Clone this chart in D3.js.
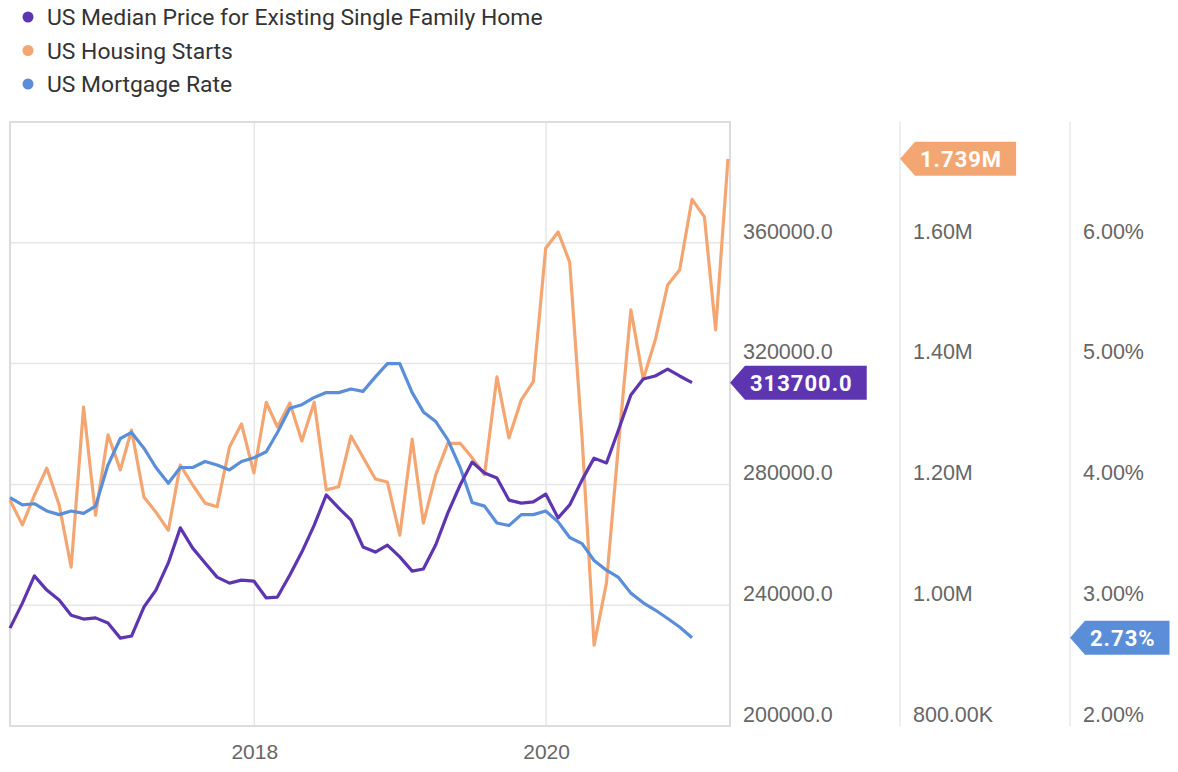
<!DOCTYPE html>
<html>
<head>
<meta charset="utf-8">
<script src="https://cdn.jsdelivr.net/npm/d3@7"></script>
<style>
  body { margin: 0; background: #fff; }
  svg { display: block; font-family: Roboto, "Noto Sans", sans-serif; }
</style>
</head>
<body>
<svg id="chart" width="1178" height="772"></svg>
<script>
// Monthly data, dated at month end (first month: April 2016)
const startMonth = new Date(2016, 3, 1);

// US median price for existing single family home (USD), Apr 2016 - Dec 2020
const medianPrice = [
  232400, 240700, 249700, 245000, 241700, 236700, 235400, 235800, 234100, 229100, 229800, 239400,
  245000, 254000, 265600, 258900, 254000, 249300, 247300, 248300, 248000, 242400, 242700, 250000,
  257600, 266500, 276500, 272200, 268200, 259300, 257600, 259900, 256000, 251300, 252000, 260000,
  270500, 279800, 287400, 283800, 282100, 274800, 273800, 274200, 276800, 268900, 273200, 281500,
  288700, 287100, 298000, 309600, 314900, 315900, 318200, 315900, 313700
];

// US housing starts (thousands, SAAR), Apr 2016 - Mar 2021
const housingStarts = [
  1174, 1133, 1182, 1227, 1166, 1063, 1328, 1149, 1282, 1224, 1290, 1179,
  1154, 1124, 1232, 1199, 1169, 1163, 1262, 1300, 1219, 1336, 1295, 1335,
  1272, 1336, 1191, 1196, 1280, 1245, 1209, 1204, 1116, 1275, 1136, 1216,
  1268, 1268, 1244, 1216, 1378, 1277, 1340, 1370, 1591, 1618, 1568, 1277,
  934, 1037, 1265, 1489, 1374, 1439, 1530, 1555, 1672, 1643, 1456, 1739
];

// US mortgage rate (%), Apr 2016 - Dec 2020
const mortgageRate = [
  3.89, 3.83, 3.84, 3.78, 3.75, 3.78, 3.76, 3.82, 4.16, 4.38, 4.43, 4.30,
  4.14, 4.01, 4.14, 4.14, 4.19, 4.16, 4.12, 4.19, 4.22, 4.27, 4.43, 4.63,
  4.66, 4.72, 4.76, 4.76, 4.79, 4.77, 4.89, 5.00, 5.00, 4.76, 4.60, 4.52,
  4.37, 4.14, 3.85, 3.82, 3.68, 3.66, 3.75, 3.75, 3.78, 3.69, 3.56, 3.51,
  3.37, 3.29, 3.23, 3.10, 3.02, 2.96, 2.89, 2.82, 2.73
];

const seriesNames = [
  "US Median Price for Existing Single Family Home",
  "US Housing Starts",
  "US Mortgage Rate"
];
const seriesColors = ["#5e35b1", "#f4a672", "#5b8ed8"];

const priceTicks = [200000, 240000, 280000, 320000, 360000];
const startsTicks = [800, 1000, 1200, 1400, 1600];
const rateTicks = [2, 3, 4, 5, 6];
const yearTicks = [new Date(2018, 0, 1), new Date(2020, 0, 1)];

// month-end date for the i-th month
function monthEnd(i) {
  return d3.timeDay.offset(d3.timeMonth.offset(startMonth, i + 1), -1);
}

const svg = d3.select("#chart");
const plotLeft = 10, plotRight = 730, plotTop = 122, plotBottom = 726;

const x = d3.scaleTime()
  .domain([new Date(2016, 3, 30), new Date(2021, 3, 5)])
  .range([plotLeft, plotRight]);
const yPrice = d3.scaleLinear().domain([200000, 400000]).range([plotBottom, plotTop]);
const yStarts = d3.scaleLinear().domain([800, 1800]).range([plotBottom, plotTop]);
const yRate = d3.scaleLinear().domain([2, 7]).range([plotBottom, plotTop]);

// grid
const grid = svg.append("g").attr("class", "grid");
grid.selectAll("line.h")
  .data(priceTicks.slice(1))
  .enter().append("line")
  .attr("x1", plotLeft).attr("x2", plotRight)
  .attr("y1", (d) => yPrice(d)).attr("y2", (d) => yPrice(d))
  .style("stroke", "#e6e6e6").style("stroke-width", 1.5);
grid.selectAll("line.v")
  .data(yearTicks)
  .enter().append("line")
  .attr("x1", (d) => x(d)).attr("x2", (d) => x(d))
  .attr("y1", plotTop).attr("y2", plotBottom)
  .style("stroke", "#e6e6e6").style("stroke-width", 1.5);

// frame
svg.append("rect")
  .attr("x", plotLeft).attr("y", plotTop)
  .attr("width", plotRight - plotLeft).attr("height", plotBottom - plotTop)
  .style("fill", "none").style("stroke", "#dcdcdc").style("stroke-width", 2);

// axis separators
svg.selectAll("line.sep")
  .data([900, 1070])
  .enter().append("line")
  .attr("x1", (d) => d).attr("x2", (d) => d)
  .attr("y1", plotTop).attr("y2", plotBottom)
  .style("stroke", "#e8e8e8").style("stroke-width", 1.5);

// lines
const lineOf = (scale) => d3.line()
  .x((d, i) => x(monthEnd(i)))
  .y((d) => scale(d));

const plot = svg.append("g");
[[housingStarts, yStarts, 1], [mortgageRate, yRate, 2], [medianPrice, yPrice, 0]].forEach(([data, scale, k]) => {
  plot.append("path")
    .datum(data)
    .attr("d", lineOf(scale))
    .style("fill", "none")
    .style("stroke", seriesColors[k])
    .style("stroke-width", 3.2)
    .style("stroke-linejoin", "round");
});

// right hand axes
function styleAxis(g) {
  g.select(".domain").remove();
  g.selectAll("text")
    .attr("dy", "-0.22em")
    .style("font-size", "21.5px")
    .style("fill", "#666");
}

svg.append("g")
  .attr("transform", `translate(${plotRight + 13},0)`)
  .call(d3.axisRight(yPrice).tickValues(priceTicks).tickSize(0).tickPadding(0)
    .tickFormat((d) => d3.format(".1f")(d)))
  .call(styleAxis);

svg.append("g")
  .attr("transform", "translate(913,0)")
  .call(d3.axisRight(yStarts).tickValues(startsTicks).tickSize(0).tickPadding(0)
    .tickFormat((d) => d >= 1000 ? d3.format(".2f")(d / 1000) + "M" : d3.format(".2f")(d) + "K"))
  .call(styleAxis);

svg.append("g")
  .attr("transform", "translate(1083,0)")
  .call(d3.axisRight(yRate).tickValues(rateTicks).tickSize(0).tickPadding(0)
    .tickFormat((d) => d3.format(".2f")(d) + "%"))
  .call(styleAxis);

// x axis
const xAxis = svg.append("g")
  .attr("transform", `translate(0,${plotBottom})`)
  .call(d3.axisBottom(x).tickValues(yearTicks).tickSize(0).tickPadding(18)
    .tickFormat(d3.timeFormat("%Y")));
xAxis.select(".domain").remove();
xAxis.selectAll("text").style("font-size", "21px").style("fill", "#666");

// last value flags
const flags = [
  { x0: plotRight, y: yPrice(medianPrice[medianPrice.length - 1]), text: d3.format(".1f")(medianPrice[medianPrice.length - 1]), color: seriesColors[0] },
  { x0: 900, y: yStarts(housingStarts[housingStarts.length - 1]), text: d3.format(".3f")(housingStarts[housingStarts.length - 1] / 1000) + "M", color: seriesColors[1] },
  { x0: 1070, y: yRate(mortgageRate[mortgageRate.length - 1]), text: d3.format(".2f")(mortgageRate[mortgageRate.length - 1]) + "%", color: seriesColors[2] }
];

flags.forEach((f) => {
  const g = svg.append("g");
  const path = g.append("path").style("fill", f.color);
  const t = g.append("text")
    .attr("x", f.x0 + 20)
    .attr("y", f.y)
    .attr("dy", "0.36em")
    .style("font-size", "22px")
    .style("font-weight", "bold")
    .style("letter-spacing", "1px")
    .style("fill", "#fff")
    .text(f.text);
  const w = t.node().getComputedTextLength() + 34;
  const h = 17;
  path.attr("d", `M${f.x0},${f.y} L${f.x0 + 15},${f.y - h} L${f.x0 + w},${f.y - h} L${f.x0 + w},${f.y + h} L${f.x0 + 15},${f.y + h} Z`);
});

// legend
const legend = svg.append("g")
  .selectAll("g")
  .data(seriesNames)
  .enter().append("g")
  .attr("transform", (d, i) => `translate(0,${17 + i * 33.5})`);
legend.append("circle")
  .attr("cx", 28).attr("cy", 0).attr("r", 5.5)
  .style("fill", (d, i) => seriesColors[i]);
legend.append("text")
  .attr("x", 47).attr("y", 0).attr("dy", "0.36em")
  .style("font-size", "22.9px")
  .style("fill", "#333")
  .text((d) => d);
</script>
</body>
</html>
